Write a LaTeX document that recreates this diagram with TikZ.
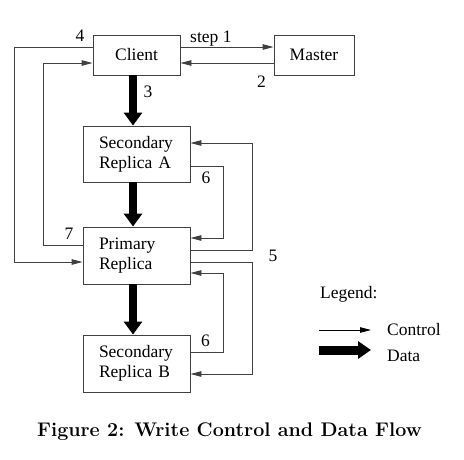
\documentclass[tikz,border=0pt]{standalone}
\usepackage{fontspec}
\newfontfamily\tmsfont{Liberation Serif}
\usetikzlibrary{arrows.meta}
\definecolor{ln}{HTML}{404040}
\begin{document}
\begin{tikzpicture}[x=1pt,y=-1pt,
 box/.style={draw=ln, line width=0.9pt, font=\tmsfont\fontsize{17.5}{20}\selectfont, inner sep=0pt},
 twoline/.style={box, text width=75pt, align=left, minimum width=107pt, minimum height=56pt},
 lbl/.style={font=\tmsfont\fontsize{17.5}{20}\selectfont, inner sep=0pt},
 ctrl/.style={draw=ln, line width=0.9pt, -{Triangle[length=11pt,width=5.5pt]}},
 data/.style={line width=8pt, -{Triangle[length=13pt,width=18pt]}}
]
\useasboundingbox (0,0) rectangle (464,459);
% boxes
\node[box, minimum width=87pt, minimum height=40pt] (client) at (136.5,55) {Client};
\node[box, minimum width=80pt, minimum height=40pt] (master) at (314,55) {Master};
\node[twoline] (secA) at (136.5,154) {Secondary\\Replica A};
\node[twoline, minimum height=57pt] (primary) at (136.5,255.5) {Primary\\Replica};
\node[twoline, minimum height=57pt] (secB) at (136.5,363.5) {Secondary\\Replica B};
% data flow
\draw[data] (133,0 |- client.south) -- (133,0 |- secA.north);
\draw[data] (133,0 |- secA.south) -- (133,0 |- primary.north);
\draw[data] (133,0 |- primary.south) -- (133,0 |- secB.north);
% control flow
\draw[ctrl] (client.east |- 0,47) -- (master.west |- 0,47);
\draw[ctrl] (master.west |- 0,63) -- (client.east |- 0,63);
\draw[ctrl] (client.west |- 0,47) -- (14,47) |- (primary.west |- 0,262);
\draw[ctrl] (primary.west |- 0,245) -- (43,245) |- (client.west |- 0,63);
\draw[ctrl] (primary.east |- 0,250) -- (252,250) |- (secA.east |- 0,143);
\draw[ctrl] (secA.east |- 0,166) -- (223,166) |- (primary.east |- 0,238);
\draw[ctrl] (primary.east |- 0,262) -- (252,262) |- (secB.east |- 0,374);
\draw[ctrl] (secB.east |- 0,352) -- (223,352) |- (primary.east |- 0,273);
% labels
\node[lbl, anchor=base west] (lstep) at (190,42) {step 1};
\node[lbl] (l2) at (261.5,82) {2};
\node[lbl] (l3) at (148,92) {3};
\node[lbl] (l4) at (80,35.5) {4};
\node[lbl] (l5) at (273,256) {5};
\node[lbl] (l6a) at (206,177.5) {6};
\node[lbl] (l6b) at (205.5,341) {6};
\node[lbl] (l7) at (69,233.5) {7};
% legend
\node[lbl, anchor=base west] (leg) at (320,298) {Legend:};
\coordinate (lc1) at (319,330);
\coordinate (lc2) at (371,330);
\draw[ctrl, draw=black, line width=0.8pt] (lc1) -- (lc2);
\coordinate (ld1) at (319,350);
\coordinate (ld2) at (371,350);
\draw[line width=9pt, -{Triangle[length=13pt,width=17pt]}] (ld1) -- (ld2);
\node[lbl, anchor=base west] (lctl) at (387,335) {Control};
\node[lbl, anchor=base west] (ldat) at (387,361) {Data};
% caption
\node[font=\fontsize{19.7}{24}\selectfont\bfseries, anchor=base, inner sep=0pt] (cap) at (229.5,436) {Figure 2: Write Control and Data Flow};
\end{tikzpicture}
\end{document}
